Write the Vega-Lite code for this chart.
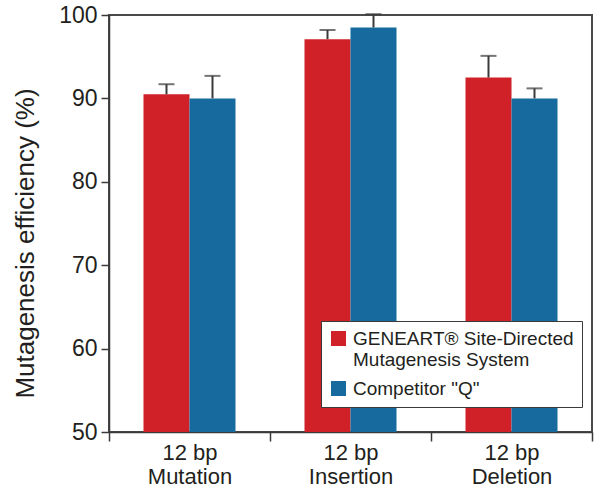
{
  "$schema": "https://vega.github.io/schema/vega-lite/v6.json",
  "width": 483,
  "height": 417,
  "autosize": {"type": "none"},
  "padding": {"left": 109, "top": 15, "right": 8, "bottom": 60},
  "background": "white",
  "config": {
    "font": "Liberation Sans",
    "view": {"stroke": "#4a4a4a", "strokeWidth": 2},
    "axis": {
      "domainColor": "#3a3a3a",
      "domainWidth": 1.5,
      "tickColor": "#3a3a3a",
      "tickWidth": 1.5,
      "labelColor": "#231f20",
      "titleColor": "#231f20",
      "grid": false
    }
  },
  "data": {
    "values": [
      {"group": "12 bp|Mutation", "series": "GENEART® Site-Directed|Mutagenesis System", "value": 90.5, "upper": 91.7},
      {"group": "12 bp|Mutation", "series": "Competitor \"Q\"", "value": 90.0, "upper": 92.7},
      {"group": "12 bp|Insertion", "series": "GENEART® Site-Directed|Mutagenesis System", "value": 97.1, "upper": 98.2},
      {"group": "12 bp|Insertion", "series": "Competitor \"Q\"", "value": 98.5, "upper": 100.1},
      {"group": "12 bp|Deletion", "series": "GENEART® Site-Directed|Mutagenesis System", "value": 92.5, "upper": 95.1},
      {"group": "12 bp|Deletion", "series": "Competitor \"Q\"", "value": 90.0, "upper": 91.2}
    ]
  },
  "encoding": {
    "x": {
      "field": "group",
      "type": "nominal",
      "sort": null,
      "scale": {"paddingInner": 0, "paddingOuter": 0},
      "axis": {
        "title": null,
        "labelAngle": 0,
        "labelExpr": "split(datum.label, '|')",
        "labelFontSize": 22,
        "labelLineHeight": 24,
        "labelPadding": 1,
        "tickBand": "extent",
        "tickSize": 9
      }
    },
    "xOffset": {
      "field": "series",
      "type": "nominal",
      "sort": null,
      "scale": {"paddingInner": 0, "paddingOuter": 0.75}
    }
  },
  "layer": [
    {
      "mark": {"type": "bar"},
      "encoding": {
        "y": {
          "field": "value",
          "type": "quantitative",
          "scale": {"domain": [50, 100], "nice": false, "zero": false},
          "axis": {
            "title": "Mutagenesis efficiency (%)",
            "values": [50, 60, 70, 80, 90, 100],
            "labelFontSize": 23,
            "titleFontSize": 26,
            "titleFontWeight": "normal",
            "titlePadding": 20,
            "titleY": 228,
            "tickSize": 8,
            "labelPadding": 4
          }
        },
        "y2": {"datum": 50},
        "color": {
          "field": "series",
          "type": "nominal",
          "sort": null,
          "scale": {"range": ["#d02128", "#166a9e"]},
          "legend": {
            "title": null,
            "orient": "none",
            "legendX": 212,
            "legendY": 306,
            "direction": "vertical",
            "fillColor": "white",
            "strokeColor": "#3a3a3a",
            "padding": 8,
            "symbolType": "square",
            "symbolSize": 225,
            "symbolStrokeWidth": 0,
            "symbolOpacity": 1,
            "labelFontSize": 19,
            "labelColor": "#231f20",
            "labelLimit": 400,
            "labelOffset": 5,
            "labelExpr": "split(datum.label, '|')",
            "labelLineHeight": 21,
            "rowPadding": 9
          }
        }
      }
    },
    {
      "mark": {"type": "rule", "color": "#3a3a3a", "strokeWidth": 2},
      "encoding": {
        "y": {"field": "value", "type": "quantitative"},
        "y2": {"field": "upper"}
      }
    },
    {
      "mark": {"type": "tick", "color": "#3a3a3a", "thickness": 2, "size": 16, "orient": "horizontal"},
      "encoding": {
        "y": {"field": "upper", "type": "quantitative"}
      }
    }
  ]
}
